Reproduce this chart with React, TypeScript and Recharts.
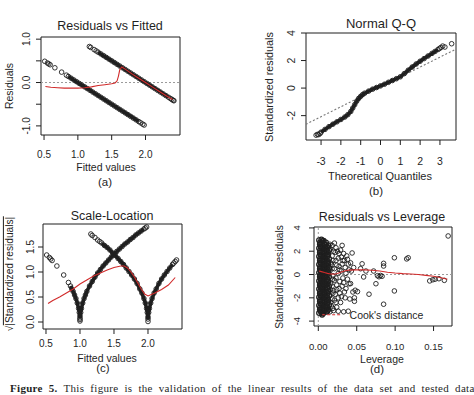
import React from 'react';
import { ComposedChart, Scatter, XAxis, YAxis, ReferenceArea, ReferenceLine } from 'recharts';

const FONT = '"Liberation Sans", Arial, sans-serif';
const INK = '#1f1f1f';
const RED = '#d12b2b';
const GREY = '#9a9a9a';

// (a) Residuals vs Fitted  [fitted, residual]
const aLowDots = [[0.51, 0.49], [0.55, 0.45], [0.57, 0.43], [0.59, 0.41], [0.66, 0.34], [0.76, 0.24], [0.83, 0.17]];
const aLowBand = [[0.86, 0.14], [0.9, 0.1], [0.94, 0.06], [0.98, 0.02], [1.02, -0.02], [1.06, -0.06], [1.1, -0.1], [1.14, -0.14], [1.18, -0.18], [1.22, -0.22], [1.26, -0.26], [1.3, -0.3], [1.34, -0.34], [1.38, -0.38], [1.42, -0.42], [1.46, -0.46], [1.5, -0.5], [1.54, -0.54], [1.58, -0.58], [1.62, -0.62], [1.66, -0.66], [1.7, -0.7], [1.74, -0.74], [1.78, -0.78], [1.82, -0.82], [1.86, -0.86], [1.9, -0.9]];
const aLowTail = [[1.93, -0.93], [1.96, -0.96], [1.98, -0.98]];
const aUpDots = [[1.17, 0.83], [1.19, 0.81], [1.24, 0.76], [1.27, 0.73]];
const aUpBand = [[1.3, 0.7], [1.34, 0.66], [1.38, 0.62], [1.42, 0.58], [1.46, 0.54], [1.5, 0.5], [1.54, 0.46], [1.58, 0.42], [1.62, 0.38], [1.66, 0.34], [1.7, 0.3], [1.74, 0.26], [1.78, 0.22], [1.82, 0.18], [1.86, 0.14], [1.9, 0.1], [1.94, 0.06], [1.98, 0.02], [2.02, -0.02], [2.06, -0.06], [2.1, -0.1], [2.14, -0.14], [2.18, -0.18], [2.22, -0.22], [2.26, -0.26], [2.3, -0.3], [2.34, -0.34]];
const aUpTail = [[2.37, -0.37], [2.39, -0.39], [2.41, -0.41], [2.42, -0.42]];
const aSmooth = [[0.52, -0.09], [0.6, -0.11], [0.7, -0.12], [0.8, -0.13], [0.9, -0.13], [1.0, -0.13], [1.1, -0.12], [1.2, -0.1], [1.3, -0.07], [1.4, -0.05], [1.5, -0.03], [1.55, -0.01], [1.58, 0.04], [1.6, 0.15], [1.62, 0.3], [1.65, 0.36], [1.7, 0.31], [1.8, 0.2], [1.9, 0.1], [2.0, 0.0], [2.1, -0.1], [2.2, -0.2], [2.3, -0.3], [2.4, -0.39]];

// (b) Normal Q-Q  [theoretical, standardized]
const qqBand = [[-3.0, -3.2], [-2.8, -3.0], [-2.6, -2.8], [-2.4, -2.62], [-2.2, -2.45], [-2.0, -2.28], [-1.8, -2.1], [-1.65, -1.93], [-1.5, -1.7], [-1.4, -1.45], [-1.3, -1.2], [-1.2, -0.95], [-1.1, -0.75], [-1.0, -0.6], [-0.9, -0.47], [-0.8, -0.37], [-0.6, -0.22], [-0.4, -0.08], [-0.2, 0.04], [0, 0.16], [0.2, 0.28], [0.4, 0.42], [0.6, 0.55], [0.8, 0.68], [1.0, 0.82], [1.2, 1.05], [1.4, 1.3], [1.6, 1.53], [1.8, 1.75], [2.0, 1.95], [2.2, 2.14], [2.4, 2.33], [2.6, 2.52], [2.75, 2.66], [2.9, 2.8]];
const qqTails = [[-3.25, -3.42], [-3.18, -3.36], [-3.12, -3.38], [-3.05, -3.3], [2.98, 2.88], [3.05, 2.95], [3.14, 3.05], [3.25, 2.98], [3.59, 3.22]];
const qqRefLine = [[-3.77, -2.63], [3.81, 2.83]];

// (c) Scale-Location  [fitted, sqrt|std resid|]
const cLeftDots = [[0.51, 1.34], [0.55, 1.29], [0.57, 1.26], [0.59, 1.23], [0.66, 1.12], [0.76, 0.94], [0.83, 0.79]];
const cLowBand = [[0.86, 0.72], [0.88, 0.66], [0.9, 0.61], [0.92, 0.54], [0.94, 0.47], [0.96, 0.38], [0.98, 0.27], [0.99, 0.19], [1.0, 0.08], [1.01, 0.19], [1.02, 0.27], [1.04, 0.38], [1.06, 0.47], [1.08, 0.54], [1.1, 0.61], [1.14, 0.72], [1.18, 0.81], [1.22, 0.9], [1.26, 0.98], [1.3, 1.05], [1.34, 1.12], [1.38, 1.18], [1.42, 1.24], [1.46, 1.3], [1.5, 1.36], [1.54, 1.41], [1.58, 1.46], [1.62, 1.51], [1.66, 1.56], [1.7, 1.6], [1.74, 1.65], [1.78, 1.69], [1.82, 1.74], [1.86, 1.78], [1.9, 1.82], [1.94, 1.86]];
const cLowTail = [[1.0, 0.02], [1.0, 0.05], [1.0, 0.12], [1.96, 1.88], [1.98, 1.9]];
const cUpDots = [[1.16, 1.76], [1.18, 1.73], [1.22, 1.69], [1.26, 1.64], [1.29, 1.61]];
const cUpBand = [[1.32, 1.58], [1.36, 1.53], [1.4, 1.49], [1.44, 1.44], [1.48, 1.38], [1.52, 1.33], [1.56, 1.27], [1.6, 1.21], [1.64, 1.15], [1.68, 1.08], [1.72, 1.01], [1.76, 0.94], [1.8, 0.86], [1.84, 0.77], [1.88, 0.66], [1.91, 0.58], [1.94, 0.47], [1.96, 0.38], [1.98, 0.27], [1.99, 0.19], [2.0, 0.06], [2.01, 0.19], [2.02, 0.27], [2.04, 0.38], [2.06, 0.47], [2.09, 0.58], [2.12, 0.66], [2.16, 0.77], [2.2, 0.86], [2.24, 0.94], [2.28, 1.01], [2.32, 1.08], [2.36, 1.15]];
const cUpTail = [[2.0, 0.01], [2.0, 0.1], [2.38, 1.18], [2.4, 1.21], [2.42, 1.24]];
const cSmooth = [[0.53, 0.37], [0.6, 0.43], [0.7, 0.5], [0.8, 0.58], [0.9, 0.66], [1.0, 0.76], [1.1, 0.84], [1.2, 0.92], [1.3, 0.98], [1.4, 1.04], [1.5, 1.09], [1.6, 1.12], [1.65, 1.12], [1.7, 1.08], [1.75, 1.0], [1.8, 0.9], [1.85, 0.78], [1.9, 0.66], [1.95, 0.56], [2.0, 0.52], [2.05, 0.55], [2.1, 0.58], [2.2, 0.65], [2.3, 0.74], [2.4, 0.89]];

// (d) Residuals vs Leverage  [leverage, std resid]
const dCore = [
  [0.001, 2.95], [0.002, 2.6], [0.001, 2.25], [0.002, 1.9], [0.001, 1.55], [0.002, 1.2], [0.001, 0.85], [0.002, 0.5], [0.001, 0.15], [0.002, -0.2], [0.001, -0.55], [0.002, -0.9], [0.001, -1.25], [0.002, -1.6], [0.001, -1.95], [0.002, -2.3], [0.001, -2.65], [0.002, -3.0], [0.001, -3.3],
  [0.004, 3.0], [0.005, 2.7], [0.004, 2.35], [0.005, 2.0], [0.004, 1.65], [0.005, 1.3], [0.004, 0.95], [0.005, 0.6], [0.004, 0.25], [0.005, -0.1], [0.004, -0.45], [0.005, -0.8], [0.004, -1.15], [0.005, -1.5], [0.004, -1.85], [0.005, -2.2], [0.004, -2.55], [0.005, -2.9], [0.004, -3.2], [0.005, -3.45],
  [0.007, 2.9], [0.008, 2.55], [0.007, 2.2], [0.008, 1.85], [0.007, 1.5], [0.008, 1.15], [0.007, 0.8], [0.008, 0.45], [0.007, 0.1], [0.008, -0.25], [0.007, -0.6], [0.008, -0.95], [0.007, -1.3], [0.008, -1.65], [0.007, -2.0], [0.008, -2.35], [0.007, -2.7], [0.008, -3.05], [0.007, -3.3],
  [0.01, 2.75], [0.011, 2.4], [0.01, 2.05], [0.011, 1.7], [0.01, 1.35], [0.011, 1.0], [0.01, 0.65], [0.011, 0.3], [0.01, -0.05], [0.011, -0.4], [0.01, -0.75], [0.011, -1.1], [0.01, -1.45], [0.011, -1.8], [0.01, -2.15], [0.011, -2.5], [0.01, -2.85], [0.011, -3.2],
  [0.013, 2.5], [0.014, 2.1], [0.013, 1.75], [0.014, 1.35], [0.013, 0.95], [0.014, 0.55], [0.013, 0.2], [0.014, -0.2], [0.013, -0.6], [0.014, -1.0], [0.013, -1.4], [0.014, -1.8], [0.013, -2.2], [0.014, -2.6], [0.013, -3.0],
];
const dCoreFill = [
  [0.0025, 2.78], [0.003, 2.42], [0.0025, 2.08], [0.003, 1.72], [0.0025, 1.38], [0.003, 1.02], [0.0025, 0.68], [0.003, 0.32], [0.0025, -0.02], [0.003, -0.38], [0.0025, -0.72], [0.003, -1.08], [0.0025, -1.42], [0.003, -1.78], [0.0025, -2.12], [0.003, -2.48], [0.0025, -2.82], [0.003, -3.15],
  [0.0055, 2.85], [0.006, 2.5], [0.0055, 2.15], [0.006, 1.8], [0.0055, 1.45], [0.006, 1.1], [0.0055, 0.75], [0.006, 0.4], [0.0055, 0.05], [0.006, -0.3], [0.0055, -0.65], [0.006, -1.0], [0.0055, -1.35], [0.006, -1.7], [0.0055, -2.05], [0.006, -2.4], [0.0055, -2.75], [0.006, -3.1], [0.0055, -3.35],
  [0.009, 2.6], [0.0095, 2.25], [0.009, 1.9], [0.0095, 1.55], [0.009, 1.2], [0.0095, 0.85], [0.009, 0.5], [0.0095, 0.15], [0.009, -0.2], [0.0095, -0.55], [0.009, -0.9], [0.0095, -1.25], [0.009, -1.6], [0.0095, -1.95], [0.009, -2.3], [0.0095, -2.65], [0.009, -3.0],
  [0.012, 2.3], [0.012, 1.95], [0.012, 1.55], [0.012, 1.15], [0.012, 0.75], [0.012, 0.4], [0.012, 0.0], [0.012, -0.4], [0.012, -0.8], [0.012, -1.2], [0.012, -1.6], [0.012, -2.0], [0.012, -2.4], [0.012, -2.8], [0.012, -3.1],
];
const dMid = [
  [0.016, 2.2], [0.018, 1.6], [0.017, 0.9], [0.019, -0.4], [0.016, -1.3], [0.018, -2.1], [0.017, -2.7], [0.02, -3.1],
  [0.021, 2.7], [0.022, 1.9], [0.023, 1.2], [0.021, 0.5], [0.024, -0.9], [0.022, -1.7], [0.023, -2.4],
  [0.025, 2.0], [0.026, 1.4], [0.027, 0.7], [0.026, 0.1], [0.028, -0.6], [0.027, -1.2], [0.026, -2.0], [0.026, -3.15],
  [0.029, 2.1], [0.03, 1.5], [0.031, 0.9], [0.03, 0.3], [0.032, -0.3], [0.031, -1.0], [0.03, -1.9], [0.029, -2.4],
  [0.033, 1.8], [0.034, 1.2], [0.035, 0.6], [0.036, 0.1], [0.034, -1.5], [0.035, -2.0], [0.033, -3.2],
  [0.038, 1.3], [0.039, 0.9], [0.04, 0.4], [0.038, -0.4], [0.04, -0.8], [0.039, -3.15],
  [0.042, 1.0], [0.043, 0.3], [0.042, -0.78], [0.044, 1.85], [0.046, 0.6], [0.045, -1.5], [0.048, -1.35], [0.047, -2.0], [0.047, -2.3], [0.051, -1.47],
  [0.015, 2.6], [0.016, 1.0], [0.015, 0.3], [0.016, -0.8], [0.015, -1.8], [0.016, -2.4], [0.015, -3.2],
  [0.018, 2.5], [0.019, 1.2], [0.018, 0.5], [0.019, -0.1], [0.018, -1.0], [0.019, -1.6], [0.019, -2.9],
  [0.02, 2.0], [0.021, -0.5], [0.02, -1.4], [0.021, -2.2], [0.023, 2.3], [0.024, 0.8], [0.023, -0.3], [0.024, -1.3], [0.024, -2.8],
  [0.027, 1.8], [0.028, 0.4], [0.028, -1.6], [0.031, 2.5], [0.032, 1.2], [0.033, -0.7], [0.036, -1.2], [0.037, 1.6], [0.041, -2.1],
];
const dFar = [[0.055, 0.5], [0.057, 0.92], [0.059, -0.21], [0.062, 0.3], [0.066, -1.69], [0.072, 0.3], [0.075, -0.79], [0.077, -0.1], [0.079, -0.19], [0.081, -0.08], [0.083, -0.15], [0.085, 0.96], [0.085, 0.73], [0.085, -2.55], [0.099, 1.44], [0.099, -1.41], [0.115, 1.34], [0.117, 1.44], [0.145, -0.55], [0.149, -0.45], [0.152, -0.4], [0.157, -0.36], [0.164, -0.5], [0.169, 3.31]];
const dSmooth = [[0.001, 0.3], [0.004, 0.25], [0.008, 0.17], [0.012, 0.1], [0.016, 0.05], [0.02, 0.03], [0.025, 0.08], [0.03, 0.22], [0.035, 0.33], [0.04, 0.38], [0.05, 0.4], [0.06, 0.4], [0.07, 0.37], [0.08, 0.3], [0.09, 0.2], [0.1, 0.13], [0.11, 0.08], [0.12, 0.05], [0.13, 0.0], [0.14, -0.07], [0.15, -0.15], [0.16, -0.27], [0.168, -0.4]];
const cookLegend = [[0.005, -3.45], [0.031, -3.45]];

const toPts = (arr: number[][]) => arr.map(([x, y]) => ({ x, y }));

const Ring = (p: any) => <circle cx={p.cx} cy={p.cy} r={2.3} fill="none" stroke={INK} strokeWidth={0.9} />;
const HeavyRing = (p: any) => <circle cx={p.cx} cy={p.cy} r={2.4} fill="none" stroke={INK} strokeWidth={1.2} />;
const NoDot = () => <g />;

const VTick = (p: any) => {
  const label = p.fmt(p.payload.value);
  if (!label) return <g />;
  return (
    <text x={p.x} y={p.y} transform={`rotate(-90 ${p.x} ${p.y})`} textAnchor="middle"
      dominantBaseline="central" fontSize={p.fs} fill={INK} fontFamily={FONT}>{label}</text>
  );
};

const T = ({ x, y, size, rot, children }: any) => (
  <div style={{
    position: 'absolute', left: x, top: y, transform: `translate(-50%, -50%)${rot ? ' rotate(-90deg)' : ''}`,
    whiteSpace: 'nowrap', fontFamily: FONT, fontSize: size, color: INK, lineHeight: 1,
  }}>{children}</div>
);

const Panel = ({ left, top, w, h, margin, yw, xh, xDomain, yDomain, xTicks, yTicks, xFmt, yFmt, xtm, ytm, fs, children }: any) => (
  <div style={{ position: 'absolute', left, top }}>
    <ComposedChart width={w} height={h} margin={margin}>
      <XAxis type="number" dataKey="x" domain={xDomain} allowDataOverflow ticks={xTicks} interval={0}
        tickFormatter={xFmt} axisLine={false} tickLine={{ stroke: INK }} tickSize={5} tickMargin={xtm}
        height={xh} tick={{ fontSize: fs, fill: INK, fontFamily: FONT }} />
      <YAxis type="number" dataKey="y" domain={yDomain} allowDataOverflow ticks={yTicks} interval={0}
        width={yw} axisLine={false} tickLine={{ stroke: INK }} tickSize={5} tickMargin={ytm}
        tick={(p: any) => <VTick {...p} fmt={yFmt} fs={fs} />} />
      <ReferenceArea x1={xDomain[0]} x2={xDomain[1]} y1={yDomain[0]} y2={yDomain[1]}
        fill="none" stroke={INK} strokeWidth={1} ifOverflow="visible" />
      {children}
    </ComposedChart>
  </div>
);

const dots = (arr: number[][], shape: any = Ring) => <Scatter data={toPts(arr)} shape={shape} isAnimationActive={false} />;
const band = (arr: number[][]) => (
  <Scatter data={toPts(arr)} shape={Ring} line={{ stroke: INK, strokeWidth: 3.6 }} lineType="joint" isAnimationActive={false} />
);
const curve = (arr: number[][], stroke: string, dash?: string) => (
  <Scatter data={toPts(arr)} shape={NoDot} line={{ stroke, strokeWidth: 1.1, strokeDasharray: dash }} lineType="joint" isAnimationActive={false} />
);

const f1 = (v: number) => v.toFixed(1);
const fInt = (v: number) => String(v);

export default function App() {
  return (
    <div style={{ position: 'absolute', left: 0, top: 0, width: 474, height: 395, overflow: 'hidden', background: '#fff' }}>
      <Panel left={0} top={0} w={200} h={175} margin={{ top: 37, right: 20, bottom: 0, left: 0 }} yw={41} xh={40}
        xDomain={[0.455, 2.51]} yDomain={[-1.21, 1.05]} xTicks={[0.5, 1, 1.5, 2]} yTicks={[-1, -0.5, 0, 0.5, 1]}
        xFmt={f1} yFmt={(v: number) => (Number.isInteger(v) ? v.toFixed(1) : '')} xtm={11} ytm={9} fs={10}>
        <ReferenceLine y={0} stroke={GREY} strokeDasharray="2 2" />
        {dots(aLowDots)}
        {band(aLowBand)}
        {dots(aLowTail)}
        {dots(aUpDots)}
        {band(aUpBand)}
        {dots(aUpTail)}
        {curve(aSmooth, RED)}
      </Panel>

      <Panel left={237} top={0} w={237} h={180} margin={{ top: 33, right: 18, bottom: 0, left: 0 }} yw={69} xh={40}
        xDomain={[-3.76, 3.81]} yDomain={[-3.77, 4.0]} xTicks={[-3, -2, -1, 0, 1, 2, 3]} yTicks={[-2, 0, 2, 4]}
        xFmt={fInt} yFmt={fInt} xtm={13} ytm={10} fs={10.5}>
        {curve(qqRefLine, '#777', '2 2')}
        {band(qqBand)}
        {dots(qqTails)}
      </Panel>

      <Panel left={0} top={195} w={200} h={175} margin={{ top: 29, right: 18, bottom: 0, left: 0 }} yw={43} xh={41}
        xDomain={[0.456, 2.5]} yDomain={[-0.14, 1.96]} xTicks={[0.5, 1, 1.5, 2]} yTicks={[0, 0.5, 1, 1.5]}
        xFmt={f1} yFmt={f1} xtm={6} ytm={8} fs={10}>
        {dots(cLeftDots)}
        {band(cLowBand)}
        {dots(cLowTail)}
        {dots(cUpDots)}
        {band(cUpBand)}
        {dots(cUpTail)}
        {curve(cSmooth, RED)}
      </Panel>

      <Panel left={237} top={195} w={237} h={175} margin={{ top: 32, right: 22, bottom: 0, left: 0 }} yw={77} xh={44}
        xDomain={[-0.0056, 0.174]} yDomain={[-4.42, 4.08]} xTicks={[0, 0.05, 0.1, 0.15]} yTicks={[-4, -2, 0, 2, 4]}
        xFmt={(v: number) => v.toFixed(2)} yFmt={fInt} xtm={12} ytm={12} fs={9.5}>
        <ReferenceLine y={0} stroke={GREY} strokeDasharray="2 2" />
        <ReferenceLine x={0} stroke={GREY} strokeDasharray="2 2" />
        {dots(dCore, HeavyRing)}
        {dots(dCoreFill, HeavyRing)}
        {dots(dMid)}
        {dots(dFar)}
        {curve(dSmooth, RED)}
        {curve(cookLegend, RED, '3 2')}
      </Panel>

      <T x={110} y={26} size={12.5}>Residuals vs Fitted</T>
      <T x={9} y={86} size={10.5} rot>Residuals</T>
      <T x={106} y={167} size={10.5}>Fitted values</T>
      <T x={105} y={183} size={11.5}>(a)</T>

      <T x={381} y={23} size={13}>Normal Q-Q</T>
      <T x={269} y={86.5} size={10.8} rot>Standardized residuals</T>
      <T x={380} y={176} size={11}>Theoretical Quantiles</T>
      <T x={376} y={192} size={11.5}>(b)</T>

      <T x={112} y={216} size={12.5}>Scale-Location</T>
      <T x={10} y={274} size={10.2} rot>
        <span>√</span><span style={{ borderTop: `1px solid ${INK}` }}>|Standardized residuals|</span>
      </T>
      <T x={107} y={358} size={10.5}>Fitted values</T>
      <T x={103} y={369} size={11.5}>(c)</T>

      <T x={382} y={217} size={12.5}>Residuals vs Leverage</T>
      <T x={280} y={276.5} size={10.2} rot>Standardized residuals</T>
      <T x={382} y={359} size={10.5}>Leverage</T>
      <T x={377} y={370} size={11.5}>(d)</T>
      <T x={386.5} y={314.7} size={10.5}>Cook's distance</T>

      <div style={{
        position: 'absolute', left: 10, top: 383, width: 464, whiteSpace: 'nowrap', wordSpacing: 3, letterSpacing: 0.3,
        fontFamily: '"Liberation Serif", serif', fontSize: 11, color: INK, lineHeight: 1,
      }}>
        <b>Figure 5.</b> This figure is the validation of the linear results of the data set and tested data
      </div>
    </div>
  );
}
